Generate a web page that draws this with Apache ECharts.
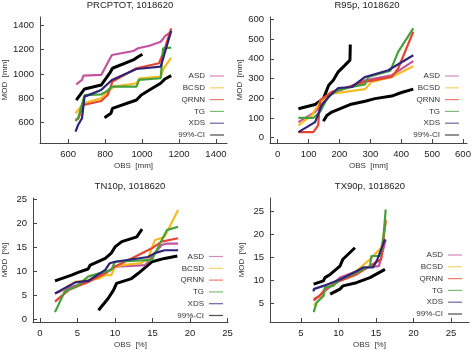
<!DOCTYPE html>
<html>
<head>
<meta charset="utf-8">
<script src="https://cdn.jsdelivr.net/npm/echarts@6/dist/echarts.min.js"></script>
<style>
html, body {margin:0; padding:0; background:#fff;}
#chart {width:474px; height:350px;}
</style>
</head>
<body>
<div id="chart"></div>
<script>
var names = ['ASD', 'BCSD', 'QRNN', 'TG', 'XDS', '99%-CI'];
var colors = ['#c4529e', '#f3bc22', '#e8432e', '#43a03b', '#2e2378', '#000000'];

// PRCPTOT
var prAsd = [[644,915],[675,951],[683,986],[779,992],[837,1156],[953,1189],[979,1211],[1040,1232],[1101,1265],[1127,1315],[1158,1345]];
var prBcsd = [[640,677],[683,759],[779,800],[814,855],[849,896],[970,924],[988,965],[1101,978],[1118,1047],[1158,1134]];
var prQrnn = [[640,630],[654,630],[683,745],[779,778],[814,827],[840,937],[970,1047],[1092,1088],[1118,1183],[1158,1375]];
var prTg = [[640,614],[654,636],[689,827],[779,833],[806,855],[837,896],[970,896],[984,951],[1101,965],[1114,1211],[1158,1216]];
var prXds = [[640,526],[654,581],[675,636],[689,814],[779,869],[837,951],[970,1041],[1101,1060],[1158,1353]];
var prCiHi = [[644,786],[689,877],[779,909],[828,1014],[840,1047],[953,1115],[979,1142],[1002,1162]];
var prCiLo = [[797,641],[832,677],[840,718],[970,786],[996,828],[1040,869],[1101,924],[1124,959],[1158,986]];

// R95p
var r9Asd = [[67,79],[121,130],[148,181],[175,223],[229,257],[283,291],[369,316],[439,388]];
var r9Bcsd = [[67,62],[110,113],[137,181],[175,223],[218,232],[283,246],[304,283],[369,308],[439,362]];
var r9Qrnn = [[67,28],[115,28],[131,62],[137,190],[175,232],[229,257],[283,283],[369,308],[390,351],[439,537]];
var r9Tg = [[67,100],[115,100],[137,130],[154,181],[169,215],[196,241],[240,257],[283,270],[293,308],[365,340],[390,435],[439,554]];
var r9Xds = [[67,28],[121,79],[142,164],[164,206],[196,252],[240,257],[283,308],[358,342],[439,418]];
var r9CiHi = [[67,147],[121,168],[148,198],[165,266],[180,291],[196,334],[218,368],[234,393],[235,473]];
var r9CiLo = [[148,83],[159,113],[175,130],[234,168],[283,185],[315,198],[369,211],[401,229],[439,246]];

// TN10p
var tnAsd = [[2.0,5.4],[4.2,6.8],[6.4,7.8],[8.7,9.6],[10.0,11.0],[14.0,11.3],[14.9,13.0],[16.2,15.5],[16.9,15.8],[18.4,15.8]];
var tnBcsd = [[2.8,5.8],[3.3,6.5],[4.7,7.8],[6.4,8.2],[7.8,8.5],[8.7,9.2],[9.5,9.2],[10.0,11.0],[10.9,11.3],[13.5,11.7],[14.4,12.7],[15.3,16.5],[16.6,17.2],[18.4,22.8]];
var tnQrnn = [[2.0,3.7],[3.8,6.1],[6.4,7.8],[8.7,9.6],[10.0,11.0],[12.2,12.7],[14.9,14.8],[16.2,16.2],[18.4,16.9]];
var tnTg = [[2.0,1.5],[3.3,5.8],[5.1,7.1],[6.4,8.9],[9.5,10.3],[10.0,12.0],[14.9,12.4],[16.9,18.6],[18.4,19.3]];
var tnXds = [[2.0,5.4],[4.7,7.7],[6.4,8.0],[8.7,10.3],[9.3,11.7],[10.0,12.0],[14.4,13.0],[15.3,13.8],[16.6,14.4],[18.4,14.4]];
var tnCiHi = [[2.0,8.0],[4.2,9.2],[5.1,9.8],[6.4,10.5],[6.7,11.3],[8.7,12.7],[9.5,13.8],[10.0,15.1],[10.9,16.2],[12.9,17.2],[13.6,18.8]];
var tnCiLo = [[7.8,1.9],[9.1,4.4],[9.8,6.1],[10.2,7.5],[12.2,8.5],[13.1,9.6],[14.9,12.0],[16.6,12.7],[18.3,13.2]];

// TX90p
var txAsd = [[6.7,5.6],[8.0,7.4],[9.3,9.2],[10.2,10.6],[12.4,12.0],[13.3,12.8],[15.4,13.1],[16.3,18.9]];
var txBcsd = [[6.7,4.6],[8.0,6.6],[8.2,8.1],[10.2,10.2],[12.4,12.0],[14.2,14.6],[15.7,17.1],[16.3,22.5]];
var txQrnn = [[6.7,5.9],[7.5,6.6],[8.2,8.1],[10.2,9.9],[12.4,11.3],[14.6,13.5],[15.7,14.6],[16.3,23.2]];
var txTg = [[6.7,3.1],[7.1,5.2],[8.0,6.6],[8.2,8.5],[9.3,8.8],[10.2,10.2],[12.4,11.7],[14.2,13.1],[14.4,15.3],[15.5,15.3],[15.9,17.4],[16.3,25.4]];
var txXds = [[6.7,7.6],[6.7,8.1],[8.0,8.8],[10.2,10.2],[12.4,12.0],[13.3,12.8],[14.6,12.8],[15.2,14.6],[16.2,18.9]];
var txCiHi = [[6.7,9.2],[8.0,9.9],[8.2,10.6],[8.9,11.3],[10.2,13.1],[10.6,14.6],[11.5,16.0],[12.2,17.1]];
var txCiLo = [[8.9,7.0],[10.2,8.1],[10.6,8.8],[12.4,9.5],[14.2,10.6],[16.2,12.4]];

var titles = ['PRCPTOT, 1018620', 'R95p, 1018620', 'TN10p, 1018620', 'TX90p, 1018620'];
var xTicks = [[600,800,1000,1200,1400], [0,100,200,300,400,500,600], [0,5,10,15,20,25], [5,10,15,20,25]];
var yTicks = [[600,800,1000,1200,1400], [0,100,200,300,400,500,600], [0,5,10,15,20,25], [5,10,15,20,25]];
var units = ['[mm]', '[mm]', '[%]', '[%]'];

var grids = [
    {left:33, top:17, width:194, height:126},
    {left:270, top:17, width:197, height:126},
    {left:33, top:198, width:195, height:124},
    {left:270, top:198, width:199, height:125}
];
var xRange = [[448,1460], [-25,613], [-0.93,25.05], [0.88,27.4]];
var yRange = [[433,1468], [-27,612], [-0.56,25.3], [0.96,27.9]];

var axisColor = '#444';
// thin line in the middle of a 14x9 box, so the legend rows keep their height
var legendIcon = 'path://M0,0L0,0M0,3.9h14v1.2h-14zM14,9L14,9';

function plain(v) {
    return String(v);
}
function makeX(i) {
    return {
        type: 'value', gridIndex: i, min: xRange[i][0], max: xRange[i][1],
        name: 'OBS  ' + units[i], nameLocation: 'middle', nameGap: 19,
        nameTextStyle: {fontSize: 8, color: '#333'},
        axisLine: {show: true, onZero: false, lineStyle: {color: axisColor}},
        axisTick: {show: true, inside: true, length: 4, customValues: xTicks[i], lineStyle: {color: axisColor}},
        axisLabel: {customValues: xTicks[i], formatter: plain, fontSize: 9.5, color: '#222', margin: 6},
        splitLine: {show: false}
    };
}
function makeY(i) {
    return {
        type: 'value', gridIndex: i, min: yRange[i][0], max: yRange[i][1],
        name: 'MOD  ' + units[i], nameLocation: 'middle', nameGap: 24,
        nameTextStyle: {fontSize: 8, color: '#333'},
        axisLine: {show: true, onZero: false, lineStyle: {color: axisColor}},
        axisTick: {show: true, inside: true, length: 4, customValues: yTicks[i], lineStyle: {color: axisColor}},
        axisLabel: {customValues: yTicks[i], formatter: plain, fontSize: 9.5, color: '#222', margin: 6},
        splitLine: {show: false}
    };
}
function line(name, data, i, color, w) {
    return {
        type: 'line', name: name, data: data, xAxisIndex: i, yAxisIndex: i,
        symbol: 'none', lineStyle: {color: color, width: w}, itemStyle: {color: color},
        animation: false
    };
}
function panelSeries(i, ciHi, ciLo, sets) {
    var out = [line('99%-CI', ciHi, i, colors[5], 3), line('99%-CI', ciLo, i, colors[5], 3)];
    for (var k = 0; k < 5; k++) {
        out.push(line(names[k], sets[k], i, colors[k], 2.2));
    }
    return out;
}
function makeLegend(right, top) {
    return {
        orient: 'vertical', right: right, top: top, align: 'right', padding: 0,
        itemWidth: 14, itemHeight: 9, itemGap: 2.8, selectedMode: false,
        data: names.map(function (n) { return {name: n, icon: legendIcon}; }),
        itemStyle: {opacity: 0.7, borderWidth: 0},
        lineStyle: {width: 0},
        textStyle: {fontSize: 8, color: '#333', fontFamily: 'Liberation Sans'}
    };
}

var series = []
    .concat(panelSeries(0, prCiHi, prCiLo, [prAsd, prBcsd, prQrnn, prTg, prXds]))
    .concat(panelSeries(1, r9CiHi, r9CiLo, [r9Asd, r9Bcsd, r9Qrnn, r9Tg, r9Xds]))
    .concat(panelSeries(2, tnCiHi, tnCiLo, [tnAsd, tnBcsd, tnQrnn, tnTg, tnXds]))
    .concat(panelSeries(3, txCiHi, txCiLo, [txAsd, txBcsd, txQrnn, txTg, txXds]));

var titleX = [130, 367, 130, 370];
var titleY = [0, 0, 181, 181];

var option = {
    backgroundColor: '#fff',
    textStyle: {fontFamily: 'Liberation Sans'},
    animation: false,
    title: titles.map(function (t, i) {
        return {text: t, left: titleX[i], top: titleY[i], textAlign: 'center', padding: 0,
            textStyle: {fontSize: 9.5, fontWeight: 'normal', color: '#222'}};
    }),
    legend: [makeLegend(250, 71.5), makeLegend(15, 71.5), makeLegend(251, 252), makeLegend(12, 250.5)],
    grid: grids,
    xAxis: [0, 1, 2, 3].map(makeX),
    yAxis: [0, 1, 2, 3].map(makeY),
    series: series
};

var myChart = echarts.init(document.getElementById('chart'), null, {renderer: 'canvas'});
myChart.setOption(option);
</script>
</body>
</html>
